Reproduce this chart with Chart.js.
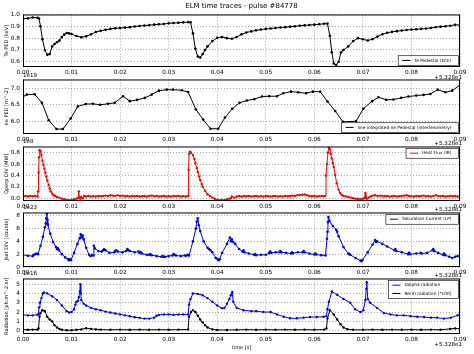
<!DOCTYPE html>
<html>
<head>
<meta charset="utf-8">
<script src="https://cdn.jsdelivr.net/npm/chart.js@4.4.0/dist/chart.umd.min.js"></script>
<style>
body { margin: 0; background: #fff; }
#wrap { position: relative; width: 474px; height: 354px; overflow: hidden; font-family: 'DejaVu Sans', sans-serif; }
#wrap canvas { position: absolute; left: 0; }
.txt { position: absolute; white-space: nowrap; color: #000; line-height: 1; z-index: 5; }
.off { font-size: 5.6px; }
</style>
</head>
<body>
<div id="wrap">
  <canvas id="c1"></canvas>
  <canvas id="c2"></canvas>
  <canvas id="c3"></canvas>
  <canvas id="c4"></canvas>
  <canvas id="c5"></canvas>
  <div class="txt" style="left:0;width:483px;text-align:center;top:3px;font-size:7px;">ELM time traces - pulse #84778</div>
  <div class="txt" style="left:0;width:483px;text-align:center;top:345px;font-size:5px;">time [s]</div>
  <div class="txt off" style="left:23px;top:73px;">1e19</div>
  <div class="txt off" style="left:23px;top:139px;">1e8</div>
  <div class="txt off" style="left:23px;top:205px;">1e23</div>
  <div class="txt off" style="left:23px;top:271px;">1e16</div>
  <div class="txt off" style="right:12px;top:75px;">+5.328e1</div>
  <div class="txt off" style="right:12px;top:141px;">+5.328e1</div>
  <div class="txt off" style="right:12px;top:207px;">+5.328e1</div>
  <div class="txt off" style="right:12px;top:273px;">+5.328e1</div>
  <div class="txt off" style="right:12px;top:342px;">+5.328e1</div>
</div>
<script>
// ---- data (time offset from 53.28 s) ----
var timeTicks = [0.00, 0.01, 0.02, 0.03, 0.04, 0.05, 0.06, 0.07, 0.08, 0.09];

var teTicks = [0.6, 0.7, 0.8, 0.9, 1.0];
var teData = [[0.000,0.964],[0.001,0.967],[0.002,0.975],[0.003,0.972],[0.0033,0.965],[0.0036,0.90],[0.004,0.79],[0.0045,0.70],[0.005,0.66],[0.0055,0.665],[0.006,0.73],[0.0065,0.75],[0.007,0.765],[0.0075,0.78],[0.008,0.81],[0.0085,0.83],[0.009,0.843],[0.0095,0.84],[0.010,0.835],[0.011,0.818],[0.012,0.807],[0.013,0.815],[0.014,0.832],[0.015,0.852],[0.016,0.862],[0.017,0.87],[0.018,0.878],[0.019,0.883],[0.020,0.886],[0.021,0.889],[0.022,0.893],[0.023,0.899],[0.024,0.903],[0.025,0.906],[0.026,0.91],[0.027,0.914],[0.028,0.917],[0.029,0.92],[0.030,0.925],[0.031,0.928],[0.032,0.93],[0.033,0.933],[0.034,0.935],[0.0345,0.934],[0.035,0.84],[0.0355,0.71],[0.036,0.645],[0.0365,0.636],[0.037,0.665],[0.0375,0.70],[0.038,0.73],[0.039,0.775],[0.040,0.803],[0.041,0.81],[0.042,0.80],[0.043,0.795],[0.044,0.81],[0.045,0.832],[0.046,0.848],[0.047,0.857],[0.048,0.866],[0.049,0.872],[0.050,0.878],[0.051,0.881],[0.052,0.886],[0.053,0.89],[0.054,0.893],[0.055,0.897],[0.056,0.9],[0.057,0.905],[0.058,0.908],[0.059,0.911],[0.060,0.914],[0.061,0.917],[0.062,0.922],[0.0627,0.923],[0.0632,0.82],[0.0636,0.68],[0.064,0.585],[0.0645,0.573],[0.065,0.60],[0.0655,0.68],[0.066,0.70],[0.067,0.73],[0.068,0.775],[0.069,0.80],[0.070,0.79],[0.071,0.78],[0.072,0.792],[0.073,0.813],[0.074,0.833],[0.075,0.845],[0.076,0.853],[0.077,0.859],[0.078,0.864],[0.079,0.869],[0.080,0.872],[0.081,0.875],[0.082,0.878],[0.083,0.881],[0.084,0.886],[0.085,0.892],[0.086,0.897],[0.087,0.9],[0.088,0.905],[0.089,0.913],[0.090,0.91]];

var neTicks = [6.0, 6.5, 7.0];
var neData = [[0.000,6.75],[0.0008,6.81],[0.0024,6.82],[0.0039,6.56],[0.0053,6.03],[0.0069,5.76],[0.0082,5.76],[0.0098,6.08],[0.0113,6.45],[0.0129,6.52],[0.0144,6.53],[0.0159,6.5],[0.0175,6.53],[0.0189,6.56],[0.0206,6.76],[0.022,6.61],[0.0235,6.65],[0.0251,6.71],[0.0265,6.81],[0.028,6.93],[0.0296,6.96],[0.0309,6.96],[0.0327,6.94],[0.034,6.89],[0.0356,6.36],[0.0371,6.05],[0.0386,5.77],[0.0402,5.77],[0.0416,6.11],[0.0431,6.38],[0.0446,6.56],[0.0461,6.63],[0.0476,6.67],[0.0492,6.75],[0.0507,6.76],[0.0523,6.76],[0.0536,6.85],[0.0552,6.9],[0.0567,6.88],[0.0583,6.85],[0.0597,6.9],[0.0612,6.9],[0.0627,6.6],[0.0643,6.31],[0.0659,5.98],[0.0686,6.0],[0.0701,6.38],[0.0719,6.61],[0.0732,6.73],[0.0748,6.65],[0.0763,6.66],[0.0779,6.71],[0.0794,6.75],[0.081,6.78],[0.0825,6.8],[0.0839,6.83],[0.0854,6.96],[0.087,6.88],[0.0884,6.93],[0.09,7.1]];

var qTicks = [0.0, 0.2, 0.4, 0.6, 0.8];
var qData = [[0.0000,0.03],[0.0005,0.04],[0.0010,0.03],[0.0015,0.04],[0.0020,0.035],[0.0025,0.04],[0.0030,0.03],[0.0031,0.12],[0.0032,0.45],[0.0033,0.72],[0.0034,0.85],[0.0035,0.84],[0.0036,0.82],[0.0038,0.76],[0.0040,0.66],[0.0042,0.59],[0.0044,0.52],[0.0046,0.45],[0.0048,0.38],[0.0050,0.31],[0.0053,0.23],[0.0055,0.17],[0.0057,0.12],[0.0060,0.08],[0.0063,0.05],[0.0066,0.04],[0.0070,0.02],[0.0075,0.01],[0.0080,-0.01],[0.0085,-0.02],[0.0090,-0.03],[0.0095,-0.035],[0.0100,-0.03],[0.0105,-0.02],[0.0110,-0.01],[0.0113,0.0],[0.0115,0.12],[0.0116,0.02],[0.0118,-0.01],[0.0120,0.02],[0.0123,0.0],[0.0126,0.04],[0.0130,0.03],[0.0135,0.04],[0.0140,0.03],[0.0145,0.035],[0.0150,0.03],[0.0155,0.04],[0.0160,0.035],[0.0165,0.04],[0.0170,0.045],[0.0175,0.04],[0.0180,0.05],[0.0185,0.045],[0.0190,0.04],[0.0195,0.05],[0.0200,0.04],[0.0205,0.045],[0.0210,0.035],[0.0215,0.04],[0.0220,0.03],[0.0225,0.04],[0.0230,0.035],[0.0235,0.04],[0.0240,0.03],[0.0245,0.035],[0.0250,0.04],[0.0255,0.03],[0.0260,0.04],[0.0265,0.045],[0.0270,0.035],[0.0275,0.04],[0.0280,0.03],[0.0285,0.035],[0.0290,0.04],[0.0295,0.03],[0.0300,0.035],[0.0305,0.03],[0.0310,0.04],[0.0315,0.035],[0.0320,0.04],[0.0325,0.03],[0.0330,0.035],[0.0335,0.03],[0.0340,0.04],[0.0341,0.5],[0.0342,0.78],[0.0344,0.82],[0.0346,0.80],[0.0350,0.76],[0.0353,0.69],[0.0355,0.62],[0.0358,0.53],[0.0360,0.46],[0.0363,0.38],[0.0365,0.32],[0.0368,0.25],[0.0370,0.2],[0.0375,0.13],[0.0380,0.07],[0.0385,0.04],[0.0390,0.01],[0.0395,-0.01],[0.0400,-0.03],[0.0405,-0.035],[0.0410,-0.03],[0.0415,-0.035],[0.0420,-0.02],[0.0425,-0.01],[0.0428,0.0],[0.0430,0.03],[0.0435,0.01],[0.0440,0.03],[0.0445,0.04],[0.0450,0.03],[0.0455,0.04],[0.0460,0.035],[0.0465,0.04],[0.0470,0.03],[0.0475,0.035],[0.0480,0.04],[0.0485,0.03],[0.0490,0.035],[0.0495,0.03],[0.0500,0.04],[0.0505,0.035],[0.0510,0.03],[0.0515,0.035],[0.0520,0.04],[0.0525,0.03],[0.0530,0.035],[0.0535,0.03],[0.0540,0.04],[0.0545,0.035],[0.0550,0.04],[0.0555,0.045],[0.0560,0.04],[0.0565,0.05],[0.0570,0.055],[0.0575,0.06],[0.0580,0.065],[0.0585,0.05],[0.0590,0.04],[0.0595,0.035],[0.0600,0.04],[0.0605,0.03],[0.0610,0.035],[0.0615,0.04],[0.0620,0.035],[0.0622,0.04],[0.0624,0.4],[0.0626,0.6],[0.0628,0.8],[0.0630,0.89],[0.0632,0.86],[0.0634,0.78],[0.0636,0.70],[0.0638,0.62],[0.0640,0.55],[0.0643,0.41],[0.0646,0.26],[0.0650,0.15],[0.0653,0.09],[0.0656,0.06],[0.0660,0.04],[0.0665,0.03],[0.0670,0.02],[0.0675,0.01],[0.0680,0.0],[0.0685,-0.01],[0.0690,-0.01],[0.0695,-0.02],[0.0700,-0.01],[0.0703,0.0],[0.0705,0.09],[0.0706,0.02],[0.0708,-0.01],[0.0712,0.01],[0.0716,0.03],[0.0720,0.045],[0.0725,0.05],[0.0730,0.04],[0.0735,0.045],[0.0740,0.04],[0.0745,0.035],[0.0750,0.04],[0.0755,0.03],[0.0760,0.035],[0.0765,0.04],[0.0770,0.03],[0.0775,0.035],[0.0780,0.04],[0.0785,0.045],[0.0790,0.05],[0.0795,0.04],[0.0800,0.035],[0.0805,0.03],[0.0810,0.04],[0.0815,0.035],[0.0820,0.04],[0.0825,0.045],[0.0830,0.035],[0.0835,0.04],[0.0840,0.03],[0.0845,0.04],[0.0850,0.05],[0.0855,0.04],[0.0860,0.035],[0.0865,0.04],[0.0870,0.03],[0.0875,0.035],[0.0880,0.04],[0.0885,0.035],[0.0890,0.04],[0.0895,0.03],[0.0900,0.035]];

var jsatTicks = [0, 1, 2, 3, 4, 5, 6, 7, 8];
var jsatData = [[0.0000,1.9],[0.0010,1.75],[0.0020,1.7],[0.0022,1.9],[0.0025,2.0],[0.0028,2.1],[0.0031,2.0],[0.0036,3.3],[0.0041,4.7],[0.0045,6.2],[0.0047,6.8],[0.0048,7.6],[0.0049,8.3],[0.0050,7.4],[0.0051,6.6],[0.0056,5.2],[0.0062,3.9],[0.0068,3.1],[0.0070,2.8],[0.0072,2.9],[0.0074,2.6],[0.0080,2.0],[0.0087,1.5],[0.0093,1.2],[0.0095,1.05],[0.0097,1.2],[0.0099,1.1],[0.0105,2.2],[0.0112,3.6],[0.0117,4.5],[0.0119,5.1],[0.0121,4.6],[0.0123,4.9],[0.0125,4.3],[0.0130,3.0],[0.0136,1.9],[0.0139,1.7],[0.0142,1.85],[0.0145,1.8],[0.0146,3.3],[0.0148,2.9],[0.0155,2.5],[0.0162,2.4],[0.0165,2.6],[0.0167,2.75],[0.0170,2.6],[0.0178,2.2],[0.0188,2.3],[0.0190,2.5],[0.0192,2.6],[0.0195,2.4],[0.0205,2.3],[0.0212,2.5],[0.0215,2.8],[0.0217,2.6],[0.0220,2.5],[0.0230,2.3],[0.0238,2.4],[0.0240,2.2],[0.0242,2.35],[0.0245,2.1],[0.0255,1.9],[0.0260,1.9],[0.0262,2.0],[0.0265,1.85],[0.0275,1.7],[0.0285,1.6],[0.0288,1.7],[0.0290,1.55],[0.0293,1.6],[0.0300,1.7],[0.0308,1.8],[0.0310,2.0],[0.0312,1.9],[0.0315,1.8],[0.0325,1.7],[0.0333,1.8],[0.0336,1.75],[0.0339,1.9],[0.0342,1.8],[0.0350,4.0],[0.0356,6.0],[0.0358,7.1],[0.0360,7.6],[0.0362,6.5],[0.0365,5.6],[0.0372,4.0],[0.0380,3.0],[0.0383,2.8],[0.0386,2.6],[0.0390,2.3],[0.0397,1.4],[0.0401,1.2],[0.0403,1.05],[0.0405,1.2],[0.0410,2.2],[0.0420,3.6],[0.0426,4.6],[0.0428,4.0],[0.0430,4.3],[0.0433,3.9],[0.0437,3.6],[0.0445,2.8],[0.0452,2.4],[0.0454,2.6],[0.0456,2.3],[0.0465,2.1],[0.0476,1.9],[0.0478,2.0],[0.0480,1.85],[0.0490,1.9],[0.0500,1.9],[0.0507,2.2],[0.0509,2.4],[0.0511,2.2],[0.0520,2.3],[0.0528,2.3],[0.0530,2.5],[0.0532,2.3],[0.0542,2.2],[0.0552,2.1],[0.0554,2.3],[0.0556,2.15],[0.0566,2.3],[0.0576,2.3],[0.0578,2.5],[0.0580,2.3],[0.0590,2.1],[0.0600,1.95],[0.0602,2.1],[0.0604,1.95],[0.0614,1.85],[0.0623,1.8],[0.0626,4.4],[0.0627,5.5],[0.0628,7.0],[0.0629,7.8],[0.0631,7.2],[0.0638,6.4],[0.0645,5.8],[0.0647,5.5],[0.0650,4.8],[0.0660,3.1],[0.0670,2.1],[0.0672,2.0],[0.0674,1.9],[0.0685,1.4],[0.0695,1.0],[0.0697,0.9],[0.0699,1.1],[0.0710,2.3],[0.0720,3.5],[0.0725,4.2],[0.0727,3.9],[0.0729,4.0],[0.0740,3.6],[0.0750,3.2],[0.0765,2.6],[0.0767,2.8],[0.0769,2.5],[0.0780,2.3],[0.0793,2.0],[0.0795,2.2],[0.0797,2.0],[0.0810,2.1],[0.0819,2.2],[0.0821,2.1],[0.0832,2.2],[0.0843,2.6],[0.0845,2.8],[0.0847,2.5],[0.0855,2.2],[0.0865,1.9],[0.0867,2.1],[0.0869,1.85],[0.0878,1.6],[0.0884,1.4],[0.0890,1.6],[0.0895,1.7],[0.0900,1.6]];

var radTicks = [0, 1, 2, 3, 4, 5];
var dalphaData = [[0.000,1.7],[0.001,1.65],[0.002,1.65],[0.003,1.72],[0.0032,1.8],[0.0033,2.5],[0.0035,3.0],[0.0038,3.5],[0.0041,4.0],[0.0043,4.1],[0.005,4.0],[0.006,3.7],[0.007,3.3],[0.008,2.7],[0.009,2.1],[0.0095,1.95],[0.010,2.0],[0.0105,2.3],[0.0108,2.8],[0.011,3.1],[0.0113,3.2],[0.0115,3.6],[0.0117,4.2],[0.0118,5.0],[0.0119,4.0],[0.012,3.3],[0.0125,2.9],[0.013,2.7],[0.014,2.45],[0.015,2.3],[0.016,2.2],[0.017,2.05],[0.018,1.95],[0.019,1.85],[0.020,1.75],[0.021,1.65],[0.022,1.55],[0.023,1.45],[0.024,1.38],[0.025,1.3],[0.026,1.3],[0.027,1.4],[0.0275,1.6],[0.028,1.7],[0.029,1.75],[0.030,1.75],[0.031,1.7],[0.032,1.75],[0.033,1.75],[0.034,1.75],[0.0342,2.8],[0.0345,3.4],[0.035,4.0],[0.036,3.95],[0.037,3.8],[0.038,3.5],[0.039,3.1],[0.040,2.7],[0.041,2.4],[0.0415,2.45],[0.042,2.9],[0.0425,3.4],[0.0428,3.8],[0.0431,4.15],[0.0433,3.1],[0.044,2.45],[0.0454,2.2],[0.047,2.1],[0.048,2.1],[0.0495,2.0],[0.051,2.0],[0.0523,1.75],[0.0537,1.5],[0.055,1.33],[0.0564,1.33],[0.0578,1.4],[0.0591,1.47],[0.0605,1.47],[0.0619,1.5],[0.0625,1.57],[0.0627,2.3],[0.063,3.1],[0.0636,4.2],[0.0647,3.85],[0.066,3.4],[0.0674,3.0],[0.0684,2.3],[0.0695,2.0],[0.0701,2.2],[0.0705,3.3],[0.0707,4.5],[0.0708,5.2],[0.0710,3.4],[0.0715,3.0],[0.0729,2.45],[0.0743,1.9],[0.0757,1.75],[0.077,1.65],[0.0784,1.65],[0.0798,1.57],[0.0812,1.5],[0.0826,1.47],[0.084,1.4],[0.0853,1.4],[0.0867,1.3],[0.0881,1.4],[0.0895,1.65],[0.09,1.75]];
var beData = [[0.000,0.12],[0.001,0.1],[0.002,0.12],[0.003,0.13],[0.0032,0.25],[0.0034,1.5],[0.0036,1.9],[0.004,2.2],[0.0045,2.1],[0.005,1.5],[0.0055,1.2],[0.006,1.0],[0.0065,0.6],[0.007,0.35],[0.0075,0.2],[0.008,0.1],[0.009,0.05],[0.010,0.06],[0.011,0.1],[0.012,0.15],[0.013,0.27],[0.014,0.2],[0.015,0.15],[0.016,0.12],[0.018,0.1],[0.020,0.12],[0.022,0.1],[0.024,0.12],[0.026,0.1],[0.028,0.12],[0.030,0.1],[0.032,0.12],[0.034,0.13],[0.0342,1.5],[0.0346,2.0],[0.035,2.2],[0.0355,2.0],[0.036,1.6],[0.0365,1.2],[0.037,0.9],[0.0375,0.6],[0.038,0.35],[0.039,0.15],[0.040,0.08],[0.042,0.08],[0.044,0.1],[0.046,0.12],[0.048,0.1],[0.050,0.12],[0.052,0.1],[0.054,0.12],[0.056,0.1],[0.058,0.12],[0.060,0.1],[0.062,0.12],[0.0625,0.25],[0.0627,1.3],[0.0632,2.2],[0.064,1.75],[0.0647,1.2],[0.0654,0.7],[0.066,0.35],[0.0668,0.17],[0.068,0.1],[0.070,0.1],[0.072,0.12],[0.074,0.1],[0.076,0.12],[0.078,0.1],[0.080,0.12],[0.082,0.1],[0.084,0.12],[0.086,0.1],[0.088,0.2],[0.089,0.25],[0.090,0.2]];

// ---- drawing ----
Chart.defaults.font.family = "'DejaVu Sans', sans-serif";
Chart.defaults.color = '#000';

var PAD_TOP = 6, XAX_H = 14;

// black box round the plot area
var framePlugin = {
    id: 'frame',
    afterDatasetsDraw: function (chart) {
        var a = chart.chartArea, ctx = chart.ctx;
        ctx.save();
        ctx.strokeStyle = '#000';
        ctx.lineWidth = 1;
        ctx.strokeRect(a.left + 0.5, a.top + 0.5, a.right - a.left - 1, a.bottom - a.top - 1);
        ctx.restore();
    }
};

// matplotlib-like legend box in a corner of the axes
var boxLegendPlugin = {
    id: 'boxLegend',
    afterDraw: function (chart, args, opts) {
        var a = chart.chartArea, ctx = chart.ctx;
        var sets = chart.data.datasets;
        ctx.save();
        ctx.font = "4.3px 'DejaVu Sans', sans-serif";
        var tw = 0;
        sets.forEach(function (d) { tw = Math.max(tw, ctx.measureText(d.label).width); });
        var rowH = 8.3;
        var w = 16 + tw + 7, h = sets.length * rowH + 1.5;
        var x = a.right - 1.5 - w;
        var y = opts.pos === 'top' ? a.top + 2 : a.bottom - 1.5 - h;
        ctx.fillStyle = '#fff';
        ctx.fillRect(x, y, w, h);
        ctx.strokeStyle = '#222';
        ctx.lineWidth = 0.7;
        ctx.strokeRect(x, y, w, h);
        sets.forEach(function (d, i) {
            var cy = y + 4.7 + i * rowH;
            ctx.strokeStyle = d.borderColor;
            ctx.lineWidth = 1;
            ctx.beginPath();
            ctx.moveTo(x + 4, cy);
            ctx.lineTo(x + 12, cy);
            ctx.stroke();
            ctx.fillStyle = '#000';
            ctx.textBaseline = 'middle';
            ctx.fillText(d.label, x + 16, cy);
        });
        ctx.restore();
    }
};

function makePanel(id, top, height, series, yMin, yMax, yTicks, yTitle, fmt, legendPos) {
    var cv = document.getElementById(id);
    cv.width = 474;
    cv.height = height + PAD_TOP + XAX_H;
    cv.style.top = (top - PAD_TOP) + 'px';
    return new Chart(cv, {
        type: 'line',
        data: {
            datasets: series.map(function (s) {
                return {
                    label: s.label,
                    data: s.data.map(function (p) { return { x: p[0], y: p[1] }; }),
                    borderColor: s.color,
                    backgroundColor: s.color,
                    borderWidth: 1,
                    pointRadius: s.r,
                    pointBorderWidth: 0,
                    tension: 0,
                    fill: false
                };
            })
        },
        options: {
            responsive: false,
            animation: false,
            devicePixelRatio: 1,
            layout: { padding: { top: PAD_TOP, right: 14, left: 0, bottom: 0 } },
            plugins: {
                legend: { display: false },
                tooltip: { enabled: false },
                boxLegend: { pos: legendPos }
            },
            scales: {
                x: {
                    type: 'linear', min: 0, max: 0.09,
                    afterBuildTicks: function (s) { s.ticks = timeTicks.map(function (v) { return { value: v }; }); },
                    afterFit: function (s) { s.height = XAX_H; },
                    ticks: { callback: function (v) { return v.toFixed(2); }, maxRotation: 0, autoSkip: false, padding: 2, font: { size: 5.8 } },
                    grid: { color: 'rgba(0,0,0,0.35)', drawTicks: false },
                    border: { display: false, dash: [1, 2] }
                },
                y: {
                    min: yMin, max: yMax,
                    afterBuildTicks: function (s) { s.ticks = yTicks.map(function (v) { return { value: v }; }); },
                    afterFit: function (s) { s.width = 23; },
                    ticks: { callback: fmt, padding: 3, font: { size: 5.8 } },
                    title: { display: true, text: yTitle, font: { size: 5 }, padding: { top: 4, bottom: 0 } },
                    grid: { color: 'rgba(0,0,0,0.35)', drawTicks: false },
                    border: { display: false, dash: [1, 2] }
                }
            }
        },
        plugins: [framePlugin, boxLegendPlugin]
    });
}

var fmt1 = function (v) { return v.toFixed(1); };
var fmt0 = function (v) { return String(v); };

makePanel('c1', 14, 53, [{ label: 'Te Pedestal (ECE)', data: teData, color: '#000000', r: 1.3 }],
    0.556, 1.0, teTicks, 'Te PED [keV]', fmt1, 'bottom');
makePanel('c2', 79, 55, [{ label: 'line integrated ne Pedestal (interferometry)', data: neData, color: '#000000', r: 1.3 }],
    5.61, 7.27, neTicks, 'ne PED [m^-2]', fmt1, 'bottom');
makePanel('c3', 146, 55, [{ label: 'Heat Flux (IR)', data: qData, color: '#ff0000', r: 1.2 }],
    -0.05, 0.91, qTicks, 'Qperp DIV [MW]', fmt1, 'top');
makePanel('c4', 212, 55, [{ label: 'Saturation Current (LP)', data: jsatData, color: '#0000ff', r: 1.3 }],
    0, 8.5, jsatTicks, 'Jsat DIV [counts]', fmt0, 'top');
makePanel('c5', 278, 56, [
    { label: 'Dalpha radiation', data: dalphaData, color: '#0000ff', r: 1.2 },
    { label: 'Be(II) radiation [*100]', data: beData, color: '#000000', r: 1.2 }
], -0.35, 5.6, radTicks, 'Radiation [ph.m^-2.sr]', fmt0, 'top');
</script>
</body>
</html>
